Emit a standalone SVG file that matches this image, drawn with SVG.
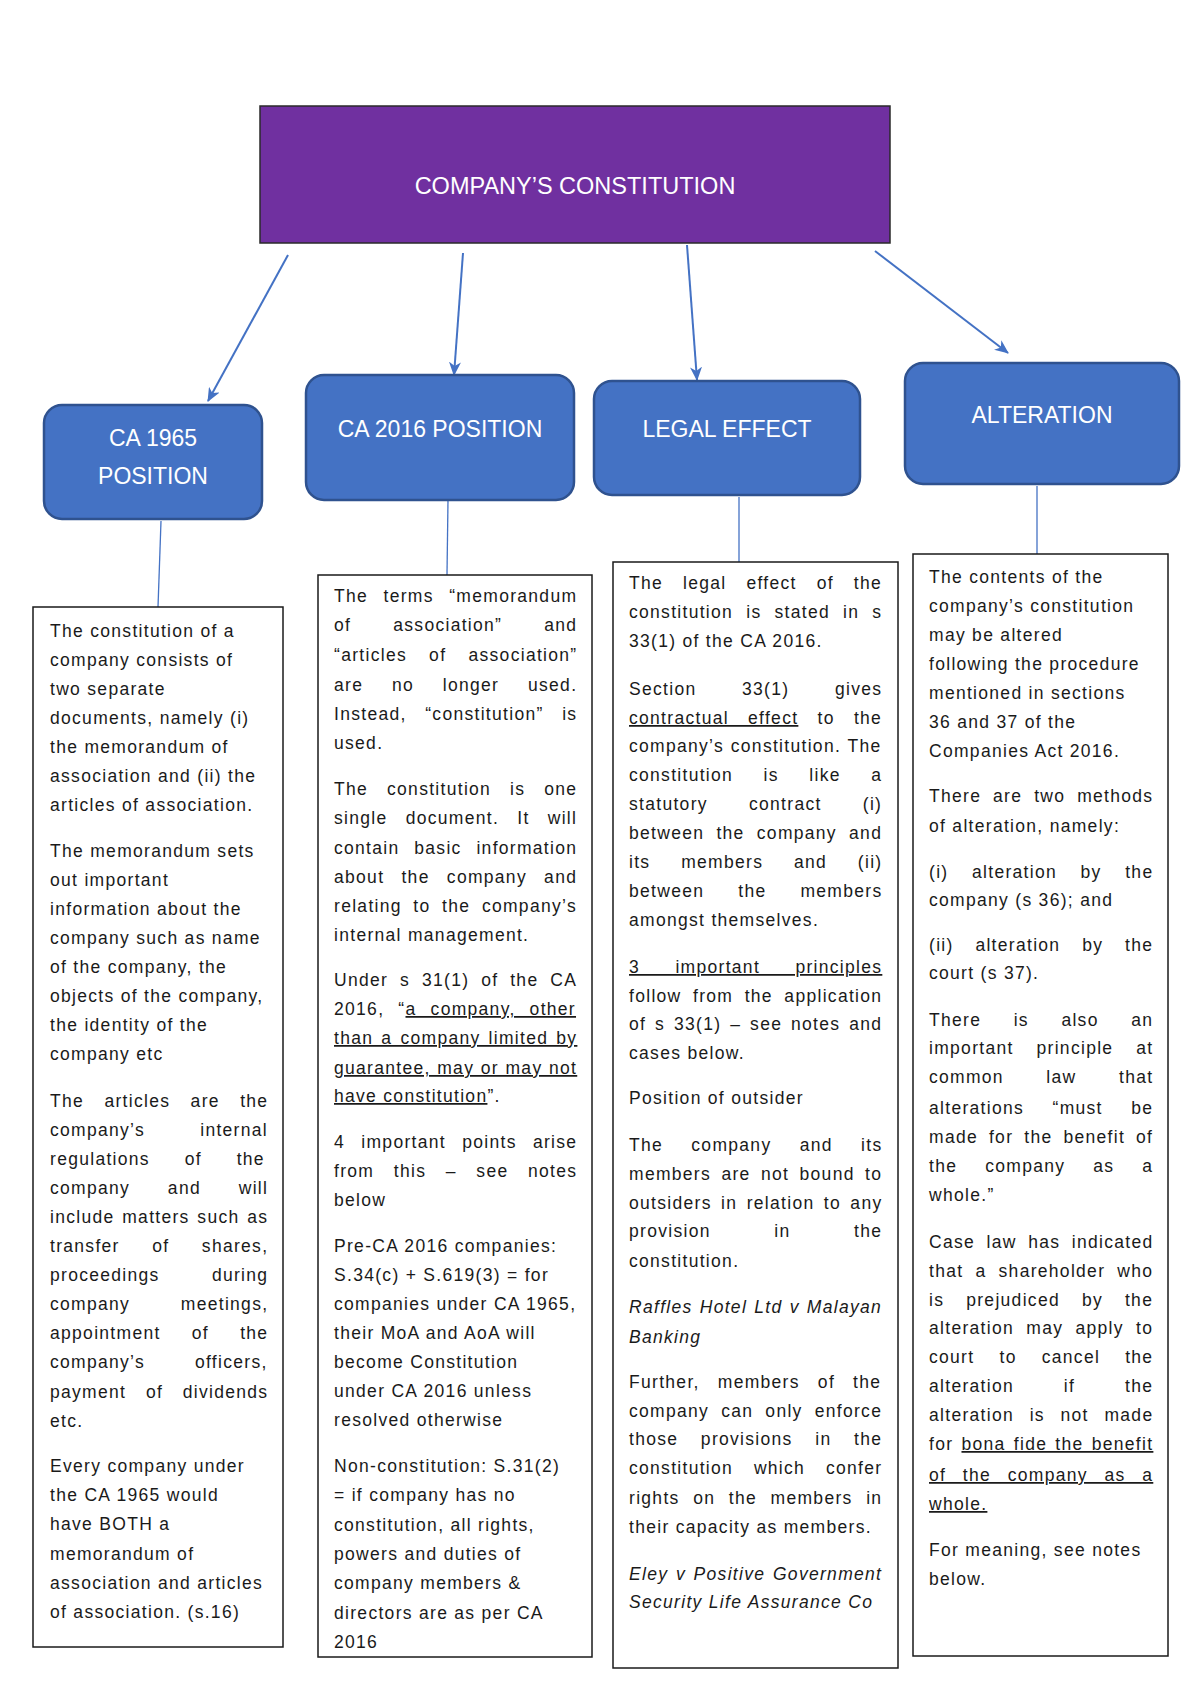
<svg xmlns="http://www.w3.org/2000/svg" width="1200" height="1696" viewBox="0 0 1200 1696">
<defs>
<style>
.bg{fill:#ffffff}
.head{fill:#7030A0;stroke:#2a2a2a;stroke-width:1.5}
.blue{fill:#4472C4;stroke:#2F528F;stroke-width:2.5}
.card{fill:#ffffff;stroke:#1a1a1a;stroke-width:1.5}
.ht{font-family:"Liberation Sans",Arial,sans-serif;font-size:23.5px;fill:#ffffff;text-anchor:middle}
.bt{font-family:"Liberation Sans",Arial,sans-serif;font-size:23px;fill:#ffffff;text-anchor:middle}
.t{font-family:"Liberation Sans",Arial,sans-serif;font-size:17.5px;letter-spacing:1.3px;fill:#1a1a1a}
.i{font-style:italic}
.u{text-decoration:underline}
.arrow{stroke:#4472C4;stroke-width:2;fill:none}
.link{stroke:#4472C4;stroke-width:1.3;fill:none}
</style>
<marker id="ah" markerUnits="userSpaceOnUse" markerWidth="14" markerHeight="12" refX="13" refY="6" orient="auto">
<path d="M0,0 L14,6 L0,12 L4,6 Z" fill="#4472C4"/>
</marker>
</defs>
<rect class="bg" x="0" y="0" width="1200" height="1696"/>

<g id="connectors">
<line class="arrow" x1="288" y1="255" x2="208" y2="401" marker-end="url(#ah)"/>
<line class="arrow" x1="463" y1="253" x2="454" y2="375" marker-end="url(#ah)"/>
<line class="arrow" x1="687" y1="245" x2="697" y2="380" marker-end="url(#ah)"/>
<line class="arrow" x1="875" y1="251" x2="1008" y2="353" marker-end="url(#ah)"/>
<line class="link" x1="161" y1="521" x2="158" y2="607"/>
<line class="link" x1="448" y1="500" x2="447" y2="575"/>
<line class="link" x1="739" y1="497" x2="739" y2="562"/>
<line class="link" x1="1037" y1="486" x2="1037" y2="554"/>
</g>

<g id="node-constitution">
<rect class="head" x="260" y="106" width="630" height="137"/>
<text class="ht" x="575" y="194">COMPANY’S CONSTITUTION</text>
</g>

<g id="node-ca1965">
<rect class="blue" x="44" y="405" width="218" height="114" rx="18"/>
<text class="bt" x="153" y="446">CA 1965</text>
<text class="bt" x="153" y="484">POSITION</text>
</g>

<g id="node-ca2016">
<rect class="blue" x="306" y="375" width="268" height="125" rx="18"/>
<text class="bt" x="440" y="437">CA 2016 POSITION</text>
</g>

<g id="node-legal">
<rect class="blue" x="594" y="381" width="266" height="114" rx="18"/>
<text class="bt" x="727" y="437">LEGAL EFFECT</text>
</g>

<g id="node-alteration">
<rect class="blue" x="905" y="363" width="274" height="121" rx="18"/>
<text class="bt" x="1042" y="423">ALTERATION</text>
</g>

<g id="node-ca1965-text">
<rect class="card" x="33" y="607" width="250" height="1040"/>
<text class="t" x="50" y="637">The constitution of a</text>
<text class="t" x="50" y="666">company consists of</text>
<text class="t" x="50" y="695">two separate</text>
<text class="t" x="50" y="724">documents, namely (i)</text>
<text class="t" x="50" y="753">the memorandum of</text>
<text class="t" x="50" y="782">association and (ii) the</text>
<text class="t" x="50" y="811">articles of association.</text>
<text class="t" x="50" y="857">The memorandum sets</text>
<text class="t" x="50" y="886">out important</text>
<text class="t" x="50" y="915">information about the</text>
<text class="t" x="50" y="944">company such as name</text>
<text class="t" x="50" y="973">of the company, the</text>
<text class="t" x="50" y="1002">objects of the company,</text>
<text class="t" x="50" y="1031">the identity of the</text>
<text class="t" x="50" y="1060">company etc</text>
<text class="t" x="50" y="1107" style="word-spacing:14.2px">The articles are the</text>
<text class="t" x="50" y="1136" style="word-spacing:49px">company’s internal</text>
<text class="t" x="50" y="1165" style="word-spacing:28.6px">regulations of the</text>
<text class="t" x="50" y="1194" style="word-spacing:31.6px">company and will</text>
<text class="t" x="50" y="1223" style="word-spacing:1.5px">include matters such as</text>
<text class="t" x="50" y="1252" style="word-spacing:26.3px">transfer of shares,</text>
<text class="t" x="50" y="1281" style="word-spacing:46.1px">proceedings during</text>
<text class="t" x="50" y="1310" style="word-spacing:44.5px">company meetings,</text>
<text class="t" x="50" y="1339" style="word-spacing:25px">appointment of the</text>
<text class="t" x="50" y="1368" style="word-spacing:43.8px">company’s officers,</text>
<text class="t" x="50" y="1398" style="word-spacing:13.5px">payment of dividends</text>
<text class="t" x="50" y="1427">etc.</text>
<text class="t" x="50" y="1472">Every company under</text>
<text class="t" x="50" y="1501">the CA 1965 would</text>
<text class="t" x="50" y="1530">have BOTH a</text>
<text class="t" x="50" y="1560">memorandum of</text>
<text class="t" x="50" y="1589">association and articles</text>
<text class="t" x="50" y="1618">of association. (s.16)</text>
</g>

<g id="node-ca2016-text">
<rect class="card" x="318" y="575" width="274" height="1082"/>
<text class="t" x="334" y="602" style="word-spacing:9.3px">The terms “memorandum</text>
<text class="t" x="334" y="631" style="word-spacing:35.9px">of association” and</text>
<text class="t" x="334" y="661" style="word-spacing:16px">“articles of association”</text>
<text class="t" x="334" y="691" style="word-spacing:22.6px">are no longer used.</text>
<text class="t" x="334" y="720" style="word-spacing:12.4px">Instead, “constitution” is</text>
<text class="t" x="334" y="749">used.</text>
<text class="t" x="334" y="795" style="word-spacing:12.8px">The constitution is one</text>
<text class="t" x="334" y="824" style="word-spacing:12px">single document. It will</text>
<text class="t" x="334" y="854" style="word-spacing:8.6px">contain basic information</text>
<text class="t" x="334" y="883" style="word-spacing:11px">about the company and</text>
<text class="t" x="334" y="912" style="word-spacing:5.4px">relating to the company’s</text>
<text class="t" x="334" y="941">internal management.</text>
<text class="t" x="334" y="986" style="word-spacing:5.7px">Under s 31(1) of the CA</text>
<text class="t" x="334" y="1015" style="word-spacing:7.9px">2016, “<tspan class="u">a company, other</tspan></text>
<text class="t u" x="334" y="1044" style="word-spacing:1.9px">than a company limited by</text>
<text class="t u" x="334" y="1074" style="word-spacing:0.4px">guarantee, may or may not</text>
<text class="t" x="334" y="1102"><tspan class="u">have constitution</tspan>”.</text>
<text class="t" x="334" y="1148" style="word-spacing:10.1px">4 important points arise</text>
<text class="t" x="334" y="1177" style="word-spacing:13.4px">from this – see notes</text>
<text class="t" x="334" y="1206">below</text>
<text class="t" x="334" y="1252">Pre-CA 2016 companies:</text>
<text class="t" x="334" y="1281">S.34(c) + S.619(3) = for</text>
<text class="t" x="334" y="1310">companies under CA 1965,</text>
<text class="t" x="334" y="1339">their MoA and AoA will</text>
<text class="t" x="334" y="1368">become Constitution</text>
<text class="t" x="334" y="1397">under CA 2016 unless</text>
<text class="t" x="334" y="1426">resolved otherwise</text>
<text class="t" x="334" y="1472">Non-constitution: S.31(2)</text>
<text class="t" x="334" y="1501">= if company has no</text>
<text class="t" x="334" y="1531">constitution, all rights,</text>
<text class="t" x="334" y="1560">powers and duties of</text>
<text class="t" x="334" y="1589">company members &amp;</text>
<text class="t" x="334" y="1619">directors are as per CA</text>
<text class="t" x="334" y="1648">2016</text>
</g>

<g id="node-legal-text">
<rect class="card" x="613" y="562" width="285" height="1106"/>
<text class="t" x="629" y="589" style="word-spacing:13.8px">The legal effect of the</text>
<text class="t" x="629" y="618" style="word-spacing:6.9px">constitution is stated in s</text>
<text class="t" x="629" y="647">33(1) of the CA 2016.</text>
<text class="t" x="629" y="695" style="word-spacing:39.4px">Section 33(1) gives</text>
<text class="t" x="629" y="724" style="word-spacing:13px"><tspan class="u">contractual effect</tspan> to the</text>
<text class="t" x="629" y="752" style="word-spacing:0.6px">company’s constitution. The</text>
<text class="t" x="629" y="781" style="word-spacing:24.3px">constitution is like a</text>
<text class="t" x="629" y="810" style="word-spacing:35px">statutory contract (i)</text>
<text class="t" x="629" y="839" style="word-spacing:6px">between the company and</text>
<text class="t" x="629" y="868" style="word-spacing:24.6px">its members and (ii)</text>
<text class="t" x="629" y="897" style="word-spacing:27.8px">between the members</text>
<text class="t" x="629" y="926">amongst themselves.</text>
<text class="t u" x="629" y="973" style="word-spacing:29.2px">3 important principles</text>
<text class="t" x="629" y="1002" style="word-spacing:5.3px">follow from the application</text>
<text class="t" x="629" y="1030" style="word-spacing:2.7px">of s 33(1) – see notes and</text>
<text class="t" x="629" y="1059">cases below.</text>
<text class="t" x="629" y="1104">Position of outsider</text>
<text class="t" x="629" y="1151" style="word-spacing:22.1px">The company and its</text>
<text class="t" x="629" y="1180" style="word-spacing:4.2px">members are not bound to</text>
<text class="t" x="629" y="1209" style="word-spacing:3.2px">outsiders in relation to any</text>
<text class="t" x="629" y="1237" style="word-spacing:57.4px">provision in the</text>
<text class="t" x="629" y="1267">constitution.</text>
<text class="t i" x="629" y="1313" style="word-spacing:1px">Raffles Hotel Ltd v Malayan</text>
<text class="t i" x="629" y="1343">Banking</text>
<text class="t" x="629" y="1388" style="word-spacing:11.9px">Further, members of the</text>
<text class="t" x="629" y="1417" style="word-spacing:5.9px">company can only enforce</text>
<text class="t" x="629" y="1445" style="word-spacing:16.4px">those provisions in the</text>
<text class="t" x="629" y="1474" style="word-spacing:14.6px">constitution which confer</text>
<text class="t" x="629" y="1504" style="word-spacing:7.4px">rights on the members in</text>
<text class="t" x="629" y="1533">their capacity as members.</text>
<text class="t i" x="629" y="1580" style="word-spacing:1.5px">Eley v Positive Government</text>
<text class="t i" x="629" y="1608">Security Life Assurance Co</text>
</g>

<g id="node-alteration-text">
<rect class="card" x="913" y="554" width="255" height="1102"/>
<text class="t" x="929" y="583">The contents of the</text>
<text class="t" x="929" y="612">company’s constitution</text>
<text class="t" x="929" y="641">may be altered</text>
<text class="t" x="929" y="670">following the procedure</text>
<text class="t" x="929" y="699">mentioned in sections</text>
<text class="t" x="929" y="728">36 and 37 of the</text>
<text class="t" x="929" y="757">Companies Act 2016.</text>
<text class="t" x="929" y="802" style="word-spacing:5.7px">There are two methods</text>
<text class="t" x="929" y="832">of alteration, namely:</text>
<text class="t" x="929" y="878" style="word-spacing:17.4px">(i) alteration by the</text>
<text class="t" x="929" y="906">company (s 36); and</text>
<text class="t" x="929" y="951" style="word-spacing:15.6px">(ii) alteration by the</text>
<text class="t" x="929" y="979">court (s 37).</text>
<text class="t" x="929" y="1026" style="word-spacing:26.3px">There is also an</text>
<text class="t" x="929" y="1054" style="word-spacing:16.7px">important principle at</text>
<text class="t" x="929" y="1083" style="word-spacing:36.3px">common law that</text>
<text class="t" x="929" y="1114" style="word-spacing:22.3px">alterations “must be</text>
<text class="t" x="929" y="1143" style="word-spacing:4.8px">made for the benefit of</text>
<text class="t" x="929" y="1172" style="word-spacing:21.8px">the company as a</text>
<text class="t" x="929" y="1201">whole.”</text>
<text class="t" x="929" y="1248" style="word-spacing:5.3px">Case law has indicated</text>
<text class="t" x="929" y="1277" style="word-spacing:5.9px">that a shareholder who</text>
<text class="t" x="929" y="1306" style="word-spacing:15.8px">is prejudiced by the</text>
<text class="t" x="929" y="1334" style="word-spacing:6.1px">alteration may apply to</text>
<text class="t" x="929" y="1363" style="word-spacing:18.9px">court to cancel the</text>
<text class="t" x="929" y="1392" style="word-spacing:43.7px">alteration if the</text>
<text class="t" x="929" y="1421" style="word-spacing:9.5px">alteration is not made</text>
<text class="t" x="929" y="1450" style="word-spacing:2px">for <tspan class="u">bona fide the benefit</tspan></text>
<text class="t u" x="929" y="1481" style="word-spacing:10.5px">of the company as a</text>
<text class="t u" x="929" y="1510">whole.</text>
<text class="t" x="929" y="1556">For meaning, see notes</text>
<text class="t" x="929" y="1585">below.</text>
</g>
</svg>
